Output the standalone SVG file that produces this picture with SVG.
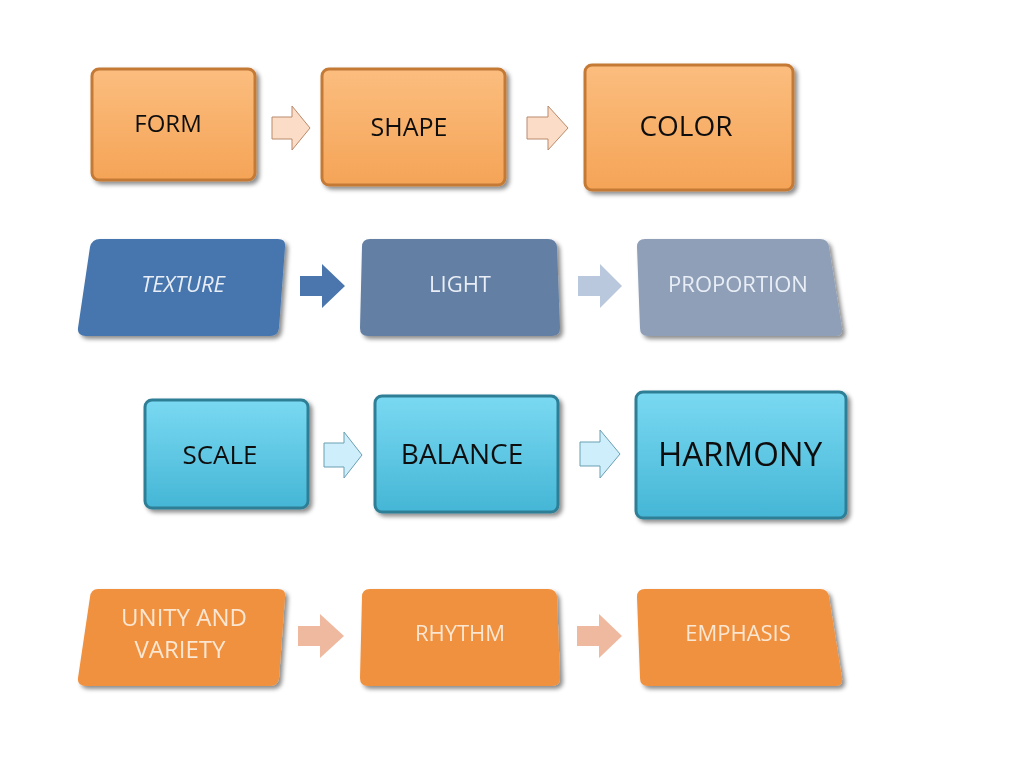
<svg xmlns="http://www.w3.org/2000/svg" width="1024" height="768" viewBox="0 0 1024 768">
<style>
.t{font-family:"Open Sans","Noto Sans",sans-serif;text-anchor:middle}
.dk{fill:#111}
.lt{fill:#e9eef6}
.lo{fill:#fbe6d2}
</style>
<defs>
<linearGradient id="or" x1="0" y1="0" x2="0" y2="1"><stop offset="0" stop-color="#fbbd7e"/><stop offset="1" stop-color="#f5a457"/></linearGradient>
<linearGradient id="cy" x1="0" y1="0" x2="0" y2="1"><stop offset="0" stop-color="#7ad9f2"/><stop offset="1" stop-color="#45b6d6"/></linearGradient>
<filter id="sh" x="-10%" y="-10%" width="125%" height="130%"><feDropShadow dx="3" dy="3" stdDeviation="2" flood-color="#000" flood-opacity="0.45"/></filter>
</defs>
<rect width="1024" height="768" fill="#fff"/>
<g id="connectors" stroke-width="1">
<path d="M272,117 H292 V106 L310,128 L292,150 V139 H272 Z" fill="#fbdcc6" stroke="#b98a6c"/>
<path d="M527,117 H548 V106 L568,128 L548,150 V139 H527 Z" fill="#fbdcc6" stroke="#b98a6c"/>
<path d="M300,276 H322 V264 L345,286 L322,308 V296 H300 Z" fill="#4a76ad"/>
<path d="M578,276 H600 V264 L622,286 L600,308 V296 H578 Z" fill="#b9c8dc"/>
<path d="M324,443 H344 V432 L362,455 L344,478 V467 H324 Z" fill="#cdeefa" stroke="#6a9fb3"/>
<path d="M580,442 H600 V430 L620,454 L600,478 V466 H580 Z" fill="#cdeefa" stroke="#6a9fb3"/>
<path d="M298,626 H320 V614 L344,636 L320,658 V646 H298 Z" fill="#efb9a0"/>
<path d="M577,626 H599 V614 L622,636 L599,658 V646 H577 Z" fill="#efb9a0"/>
</g>
<g id="form" filter="url(#sh)"><rect x="92" y="69" width="163" height="111" rx="7" fill="url(#or)" stroke="#c47a36" stroke-width="3"/><text class="t dk" x="168" y="132" font-size="24">FORM</text></g>
<g id="shape" filter="url(#sh)"><rect x="322" y="69" width="183" height="116" rx="7" fill="url(#or)" stroke="#c47a36" stroke-width="3"/><text class="t dk" x="409" y="136" font-size="25">SHAPE</text></g>
<g id="color" filter="url(#sh)"><rect x="585" y="65" width="208" height="125" rx="7" fill="url(#or)" stroke="#c47a36" stroke-width="3"/><text class="t dk" x="686" y="136" font-size="28">COLOR</text></g>
<g id="texture" filter="url(#sh)"><path d="M100,239 H278 Q286,239 285,247 L279,328 Q278,336 270,336 H86 Q77,336 78,328 L90,247 Q92,239 100,239 Z" fill="#4675ad"/><text class="t lt" x="183" y="292" font-size="22" font-style="italic">TEXTURE</text></g>
<g id="light" filter="url(#sh)"><path d="M370,239 H548 Q556,239 557,247 L560,328 Q560,336 552,336 H368 Q360,336 360,328 L362,247 Q362,239 370,239 Z" fill="#637fa3"/><text class="t lt" x="460" y="292" font-size="22">LIGHT</text></g>
<g id="proportion" filter="url(#sh)"><path d="M645,239 H820 Q828,239 829,247 L842,328 Q843,336 835,336 H648 Q640,336 640,328 L637,247 Q637,239 645,239 Z" fill="#8e9fb7"/><text class="t lt" x="738" y="292" font-size="22">PROPORTION</text></g>
<g id="scale" filter="url(#sh)"><rect x="145" y="400" width="163" height="108" rx="7" fill="url(#cy)" stroke="#2f7e95" stroke-width="3"/><text class="t dk" x="220" y="464" font-size="26">SCALE</text></g>
<g id="balance" filter="url(#sh)"><rect x="375" y="396" width="183" height="116" rx="7" fill="url(#cy)" stroke="#2f7e95" stroke-width="3"/><text class="t dk" x="462" y="464" font-size="28">BALANCE</text></g>
<g id="harmony" filter="url(#sh)"><rect x="636" y="392" width="210" height="126" rx="7" fill="url(#cy)" stroke="#2f7e95" stroke-width="3"/><text class="t dk" x="740" y="466" font-size="33">HARMONY</text></g>
<g id="unity" filter="url(#sh)"><path d="M98,589 H278 Q286,589 285,597 L279,678 Q278,686 270,686 H86 Q77,686 78,678 L90,597 Q91,589 98,589 Z" fill="#f0913f"/><text class="t lo" x="184" y="626" font-size="24">UNITY AND</text><text class="t lo" x="180" y="658" font-size="24">VARIETY</text></g>
<g id="rhythm" filter="url(#sh)"><path d="M370,589 H548 Q556,589 557,597 L560,678 Q560,686 552,686 H368 Q360,686 360,678 L362,597 Q362,589 370,589 Z" fill="#f0913f"/><text class="t lo" x="460" y="641" font-size="22">RHYTHM</text></g>
<g id="emphasis" filter="url(#sh)"><path d="M645,589 H820 Q828,589 829,597 L842,678 Q843,686 835,686 H648 Q640,686 640,678 L637,597 Q637,589 645,589 Z" fill="#f0913f"/><text class="t lo" x="738" y="641" font-size="22">EMPHASIS</text></g>
</svg>
